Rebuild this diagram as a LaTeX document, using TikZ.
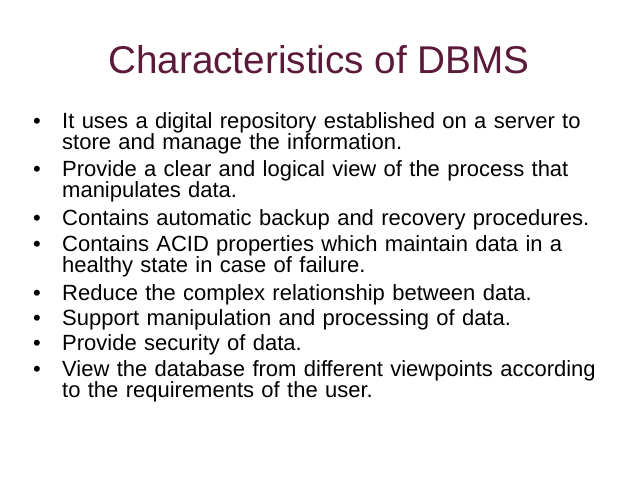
\documentclass[tikz,border=0pt]{standalone}
\usepackage{fontspec}
\setmainfont{Liberation Sans}
\definecolor{titlec}{HTML}{5C1A3A}
\begin{document}
\begin{tikzpicture}[x=1pt,y=-1pt,
  itm/.style={anchor=north west,inner sep=0pt,text width=567pt,
    font=\fontsize{22}{21}\selectfont}]
\useasboundingbox[fill=white] (0,0) rectangle (638,478);
\node[font=\fontsize{38.7}{40}\selectfont,text=titlec] (t) at (319,60) {Characteristics of DBMS};
\newcommand\itmtext[1]{\hyphenpenalty=10000\exhyphenpenalty=10000\hangindent=29pt\hangafter=1\noindent\makebox[29pt][l]{•}#1\par}
\node[itm] (a1) at (33,112) {\itmtext{It uses a digital repository established on a server to store and manage the information.}};
\node[itm] (a2) at (33,160) {\itmtext{Provide a clear and logical view of the process that manipulates data.}};
\node[itm] (a3) at (33,209) {\itmtext{Contains automatic backup and recovery procedures.}};
\node[itm] (a4) at (33,235) {\itmtext{Contains ACID properties which maintain data in a healthy state in case of failure.}};
\node[itm] (a5) at (33,284) {\itmtext{Reduce the complex relationship between data.}};
\node[itm] (a6) at (33,309) {\itmtext{Support manipulation and processing of data.}};
\node[itm] (a7) at (33,334) {\itmtext{Provide security of data.}};
\node[itm] (a8) at (33,360) {\itmtext{View the database from different viewpoints according to the requirements of the user.}};
\end{tikzpicture}
\end{document}
